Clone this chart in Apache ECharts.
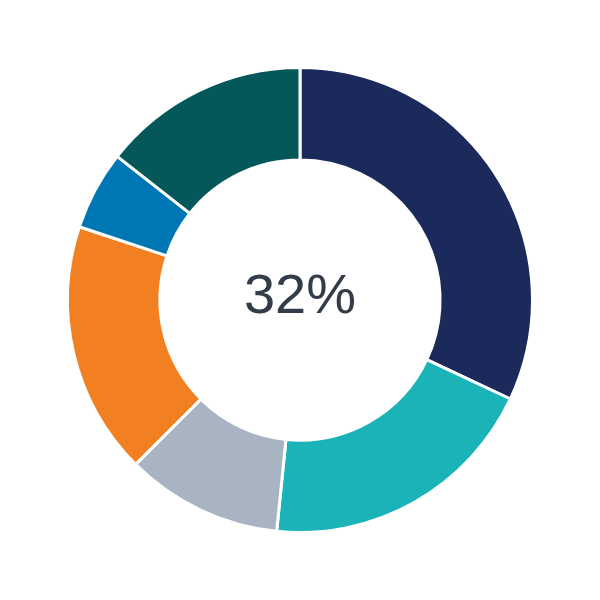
<!DOCTYPE html>
<html>
<head>
<meta charset="utf-8">
<script src="https://cdn.jsdelivr.net/npm/echarts@6/dist/echarts.min.js"></script>
<style>html,body{margin:0;padding:0;background:#fff}#c{width:600px;height:600px}</style>
</head>
<body>
<div id="c"></div>
<script>
const categories = ['A', 'B', 'C', 'D', 'E', 'F'];
const values = [32, 19.6, 10.9, 17.6, 5.5, 14.4];
const colors = ['#1b2a5a', '#1ab4b8', '#a8b4c2', '#f27f21', '#0077b5', '#04585a'];
const centerText = '32%';

const chart = echarts.init(document.getElementById('c'));
chart.setOption({
  animation: false,
  graphic: [{
    type: 'text',
    left: 'center',
    top: 270,
    style: { text: centerText, font: 'normal 56px "Liberation Sans", Arial, sans-serif', fill: '#333d49' }
  }],
  series: [{
    type: 'pie',
    center: ['50%', '50%'],
    radius: ['46.7%', '77.5%'],
    startAngle: 90,
    clockwise: true,
    label: { show: false },
    labelLine: { show: false },
    itemStyle: { borderColor: '#ffffff', borderWidth: 3 },
    emphasis: { disabled: true },
    data: categories.map((c, i) => ({ name: c, value: values[i], itemStyle: { color: colors[i] } }))
  }]
});
</script>
</body>
</html>
